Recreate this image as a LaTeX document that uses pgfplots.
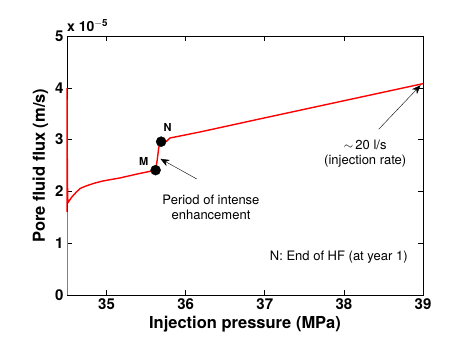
\documentclass[border=0pt]{standalone}
\usepackage{pgfplots}
\pgfplotsset{compat=1.18}
\usepackage{fontspec}
\setmainfont{TeX Gyre Heros}
\usetikzlibrary{arrows.meta}
\begin{document}
\begin{tikzpicture}[x=1pt,y=1pt]
\useasboundingbox (0,0) rectangle (474,361);
\begin{axis}[
  at={(67pt,66pt)}, anchor=south west,
  scale only axis, width=356pt, height=259pt,
  xmin=34.5, xmax=39, ymin=0, ymax=5,
  xtick={35,36,37,38,39}, ytick={0,1,2,3,4,5},
  tick align=inside, major tick length=5pt,
  tick style={black, line width=0.6pt},
  axis line style={line width=0.6pt},
  xticklabel style={font=\fontsize{15}{15}\selectfont\bfseries},
  yticklabel style={font=\fontsize{15}{15}\selectfont\bfseries},
  /pgf/number format/assume math mode=true,
  xlabel={Injection pressure (MPa)},
  ylabel={Pore fluid flux (m/s)},
  xlabel style={font=\fontsize{16.5}{17}\selectfont\bfseries, yshift=0pt},
  ylabel style={font=\fontsize{16.5}{17}\selectfont\bfseries, yshift=0pt},
  clip=false,
]
\addplot[red, line width=1.4pt] coordinates {
 (34.5,1.6) (34.5,4.0) (34.505,2.2) (34.51,1.85) (34.52,1.8) (34.56,1.89)
 (34.62,1.99) (34.67,2.06) (34.75,2.11) (34.85,2.16) (34.95,2.2)
 (35.17,2.26) (35.4,2.34) (35.62,2.41) (35.64,2.6) (35.66,2.85)
 (35.69,2.96) (35.76,2.97) (35.8,3.03) (36.19,3.15) (37,3.42) (38,3.75) (39,4.08)
};
\addplot[red!70, line width=0.8pt] coordinates {(34.5,0) (34.5,1.6)};
\addplot[only marks, mark=*, mark size=5pt, black] coordinates {(35.62,2.41) (35.69,2.96)};
\node[font=\fontsize{14}{14}\selectfont\bfseries, anchor=south west, inner sep=0pt] at (axis cs:34.5,5.08) {x 10$^{\mathbf{-5}}$};
\node[font=\fontsize{11}{11}\selectfont\bfseries] at (axis cs:35.47,2.57) {M};
\node[font=\fontsize{11}{11}\selectfont\bfseries] at (axis cs:35.77,3.24) {N};
\node[font=\fontsize{13}{15}\selectfont, align=center] at (axis cs:36.32,1.69) {Period of intense\\enhancement};
\node[font=\fontsize{13}{15}\selectfont, align=center] at (axis cs:38.27,2.72) {$\sim$\,20 l/s\\(injection rate)};
\node[font=\fontsize{13}{15}\selectfont, anchor=east] at (axis cs:38.85,0.73) {N: End of HF (at year 1)};
\draw[line width=0.4pt, -{Stealth[length=9pt,width=7pt]}] (axis cs:36.14,2.24) -- (axis cs:35.68,2.63);
\draw[line width=0.4pt, -{Stealth[length=9pt,width=7pt]}] (axis cs:38.44,3.2) -- (axis cs:38.97,4.05);
\end{axis}
\end{tikzpicture}
\end{document}
